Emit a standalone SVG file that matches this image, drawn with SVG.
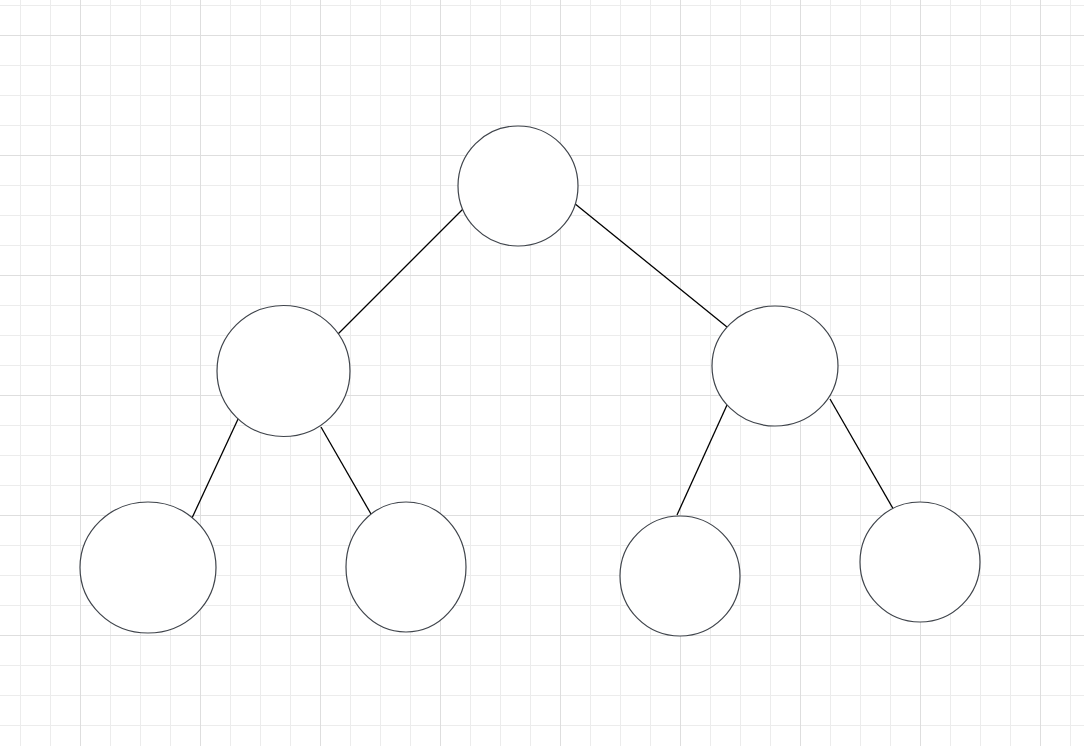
<svg xmlns="http://www.w3.org/2000/svg" width="1084" height="746" viewBox="0 0 1084 746">
<defs>
<pattern id="minor" x="20" y="5" width="30" height="30" patternUnits="userSpaceOnUse">
<path d="M0.5 0V30M0 0.5H30" fill="none" stroke="#ececec" stroke-width="1"/>
</pattern>
<pattern id="major" x="80" y="35" width="120" height="120" patternUnits="userSpaceOnUse">
<path d="M0.5 0V120M0 0.5H120" fill="none" stroke="#dedede" stroke-width="1"/>
</pattern>
</defs>
<style>
.node{fill:#ffffff;stroke:#3f444b;stroke-width:1.2}
.edge{stroke:#000000;stroke-width:1.3;fill:none}
</style>
<rect width="1084" height="746" fill="#ffffff"/>
<rect width="1084" height="746" fill="url(#minor)"/>
<rect width="1084" height="746" fill="url(#major)"/>
<g id="connectors">
<line class="edge" x1="463" y1="209" x2="336" y2="336"/>
<line class="edge" x1="574" y1="203" x2="727" y2="327"/>
<line class="edge" x1="239" y1="417" x2="192" y2="518"/>
<line class="edge" x1="321" y1="427" x2="371" y2="514"/>
<line class="edge" x1="727" y1="405" x2="677" y2="515"/>
<line class="edge" x1="830" y1="399" x2="895" y2="512"/>
</g>
<g id="root"><ellipse class="node" cx="518" cy="186" rx="60" ry="60"/></g>
<g id="midLeft"><ellipse class="node" cx="283.5" cy="371" rx="66.5" ry="65.5"/></g>
<g id="midRight"><ellipse class="node" cx="775" cy="366" rx="63" ry="60"/></g>
<g id="leaf1"><ellipse class="node" cx="148" cy="567.5" rx="68" ry="65.5"/></g>
<g id="leaf2"><ellipse class="node" cx="406" cy="567" rx="60" ry="65"/></g>
<g id="leaf3"><ellipse class="node" cx="680" cy="576" rx="60" ry="60"/></g>
<g id="leaf4"><ellipse class="node" cx="920" cy="562" rx="60" ry="60"/></g>
</svg>
